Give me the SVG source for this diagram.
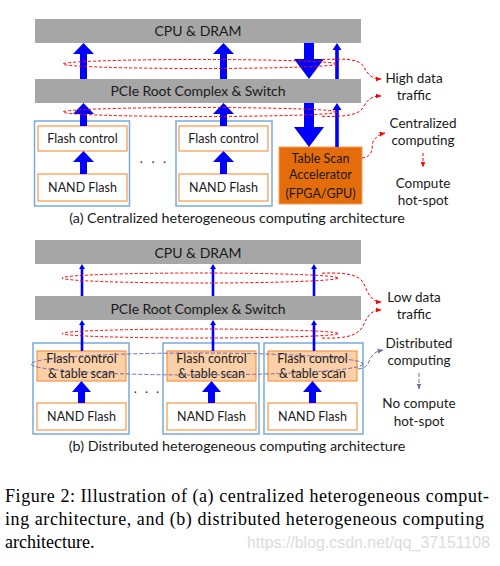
<svg xmlns="http://www.w3.org/2000/svg" width="500" height="566" viewBox="0 0 500 566">
<defs>
<style>
.bar{fill:#A6A6A6;}
.t{font-family:Lato,"Open Sans","Liberation Sans",sans-serif;font-size:12.5px;fill:#1a1a1a;text-anchor:middle;}
.tb{font-family:Lato,"Open Sans","Liberation Sans",sans-serif;font-size:14px;fill:#1a1a1a;text-anchor:middle;}
.side{font-family:Lato,"Open Sans","Liberation Sans",sans-serif;font-size:13.5px;fill:#1a1a1a;text-anchor:middle;}
.cap{font-family:Lato,"Open Sans","Liberation Sans",sans-serif;font-size:14.3px;fill:#1a1a1a;text-anchor:middle;}
.fig{font-family:"Liberation Serif","Times New Roman",serif;font-size:18px;fill:#000;}
.ssd{fill:#fff;stroke:#7AAADB;stroke-width:1.5;}
.ib{fill:#fff;stroke:#F79646;stroke-width:1.2;}
.ibf{fill:#FBCFA8;stroke:#F79646;stroke-width:1.2;}
.acc{fill:#E46C0A;stroke:#F5A05A;stroke-width:1;}
.blue{fill:#0000FF;}
.red{fill:none;stroke:#FF0000;stroke-width:1;stroke-dasharray:3,2;}
.pur{fill:none;stroke:#7A6A9E;stroke-width:1;stroke-dasharray:4,2;}
.dots{font-family:"Liberation Sans",sans-serif;font-size:14px;fill:#1a1a1a;}
</style>
<marker id="ar" viewBox="0 0 10 10" refX="9" refY="5" markerWidth="6" markerHeight="6" orient="auto"><path d="M0,1 L10,5 L0,9 z" fill="#FF0000"/></marker>
<marker id="ap" viewBox="0 0 10 10" refX="9" refY="5" markerWidth="6" markerHeight="6" orient="auto"><path d="M0,1 L10,5 L0,9 z" fill="#7A6A9E"/></marker>
</defs>

<!-- ===== (a) Centralized ===== -->
<g id="a-cpu"><rect class="bar" x="35" y="19" width="326" height="24"/><text class="tb" x="198" y="36">CPU &amp; DRAM</text></g>
<g id="a-pcie"><rect class="bar" x="35" y="79" width="326" height="24"/><text class="tb" x="198" y="96" textLength="175" lengthAdjust="spacing">PCIe Root Complex &amp; Switch</text></g>
<g id="a-ssd1"><rect class="ssd" x="34.5" y="121" width="95" height="85"/></g>
<g id="a-fc1"><rect class="ib" x="38" y="126" width="89" height="25"/><text class="t" x="82.5" y="143">Flash control</text></g>
<g id="a-nand1"><rect class="ib" x="38" y="174" width="89" height="27"/><text class="t" x="82.5" y="192">NAND Flash</text></g>
<g id="a-ssd2"><rect class="ssd" x="176" y="121" width="96" height="85"/></g>
<g id="a-fc2"><rect class="ib" x="179" y="126" width="89" height="25"/><text class="t" x="223.5" y="143">Flash control</text></g>
<g id="a-nand2"><rect class="ib" x="179" y="174" width="89" height="27"/><text class="t" x="223.5" y="192">NAND Flash</text></g>
<g id="a-dots"><text class="dots" x="139" y="166" textLength="28">·  ·  ·</text></g>
<g id="a-acc"><rect class="acc" x="279" y="147" width="83" height="57"/>
<text class="t" x="320.5" y="163">Table Scan</text><text class="t" x="320.5" y="179">Accelerator</text><text class="t" x="320.5" y="198">(FPGA/GPU)</text></g>
<g id="a-labels">
<text class="side" x="414" y="83">High data</text><text class="side" x="414" y="100">traffic</text>
<text class="side" x="423" y="128">Centralized</text><text class="side" x="423" y="145">computing</text>
<text class="side" x="423" y="188">Compute</text><text class="side" x="423" y="205">hot-spot</text>
</g>
<text class="cap" x="237" y="223">(a) Centralized heterogeneous computing architecture</text>

<!-- ===== (b) Distributed ===== -->
<g id="b-cpu"><rect class="bar" x="35" y="240" width="326" height="24"/><text class="tb" x="198" y="258">CPU &amp; DRAM</text></g>
<g id="b-pcie"><rect class="bar" x="35" y="296" width="326" height="24"/><text class="tb" x="198" y="314" textLength="175" lengthAdjust="spacing">PCIe Root Complex &amp; Switch</text></g>
<g id="b-ssd1"><rect class="ssd" x="33" y="343" width="96" height="91"/></g>
<g id="b-fc1"><rect class="ibf" x="37" y="351" width="89" height="30"/><text class="t" x="81.5" y="363">Flash control</text><text class="t" x="81.5" y="378">&amp; table scan</text></g>
<g id="b-nand1"><rect class="ib" x="37" y="403" width="89" height="27"/><text class="t" x="81.5" y="421">NAND Flash</text></g>
<g id="b-ssd2"><rect class="ssd" x="163" y="343" width="96" height="91"/></g>
<g id="b-fc2"><rect class="ibf" x="167" y="351" width="89" height="30"/><text class="t" x="211.5" y="363">Flash control</text><text class="t" x="211.5" y="378">&amp; table scan</text></g>
<g id="b-nand2"><rect class="ib" x="167" y="403" width="89" height="27"/><text class="t" x="211.5" y="421">NAND Flash</text></g>
<g id="b-ssd3"><rect class="ssd" x="264" y="343" width="99" height="91"/></g>
<g id="b-fc3"><rect class="ibf" x="268" y="351" width="89" height="30"/><text class="t" x="312.5" y="363">Flash control</text><text class="t" x="312.5" y="378">&amp; table scan</text></g>
<g id="b-nand3"><rect class="ib" x="268" y="403" width="89" height="27"/><text class="t" x="312.5" y="421">NAND Flash</text></g>
<g id="b-dots"><text class="dots" x="133" y="396" textLength="27">·  ·  ·</text></g>
<g id="b-labels">
<text class="side" x="414" y="302">Low data</text><text class="side" x="414" y="319">traffic</text>
<text class="side" x="419" y="348">Distributed</text><text class="side" x="419" y="365">computing</text>
<text class="side" x="419" y="408">No compute</text><text class="side" x="419" y="426">hot-spot</text>
</g>
<text class="cap" x="237" y="451">(b) Distributed heterogeneous computing architecture</text>

<!-- ===== connectors ===== -->
<g id="connectors">
<polygon class="blue" points="80,79 80,54 73,54 83.5,43 94,54 87,54 87,79"/>
<polygon class="blue" points="80,126 80,114 73,114 83.5,103 94,114 87,114 87,126"/>
<polygon class="blue" points="80,174 80,162 73,162 83.5,151 94,162 87,162 87,174"/>
<polygon class="blue" points="220,79 220,54 213,54 223.5,43 234,54 227,54 227,79"/>
<polygon class="blue" points="220,126 220,114 213,114 223.5,103 234,114 227,114 227,126"/>
<polygon class="blue" points="220,174 220,162 213,162 223.5,151 234,162 227,162 227,174"/>
<polygon class="blue" points="304,43 314,43 314,59 324,59 309,79 294,59 304,59"/>
<polygon class="blue" points="304,103 314,103 314,127 324,127 309,147 294,127 304,127"/>
<polygon class="blue" points="335.2,79 335.2,50 332.5,50 337,43 341.5,50 338.8,50 338.8,79"/>
<polygon class="blue" points="335.2,147 335.2,110 332.5,110 337,103 341.5,110 338.8,110 338.8,147"/>
<ellipse class="red" cx="200" cy="64" rx="137" ry="4.5"/>
<ellipse class="red" cx="200" cy="112" rx="137" ry="4.5"/>
<path class="red" d="M322,59.7 C350,58 360,60 364,67 C368,75 372,79 381,79" marker-end="url(#ar)"/>
<path class="red" d="M322,116.3 C350,117 360,114 364,106 C368,99 372,96 381,96" marker-end="url(#ar)"/>
<path class="red" d="M362,158 C376,156 370,145 374,140 C377,136 380,134 385,133" marker-end="url(#ar)"/>
<path class="red" d="M423,153 L423,167" marker-end="url(#ar)"/>
<polygon class="blue" points="80.7,296 80.7,269 79,269 82,264 85,269 83.3,269 83.3,296"/>
<polygon class="blue" points="80.7,351 80.7,325 79,325 82,320 85,325 83.3,325 83.3,351"/>
<polygon class="blue" points="211.7,296 211.7,269 210,269 213,264 216,269 214.3,269 214.3,296"/>
<polygon class="blue" points="211.7,351 211.7,325 210,325 213,320 216,325 214.3,325 214.3,351"/>
<polygon class="blue" points="312.7,296 312.7,269 311,269 314,264 317,269 315.3,269 315.3,296"/>
<polygon class="blue" points="312.7,351 312.7,325 311,325 314,320 317,325 315.3,325 315.3,351"/>
<polygon class="blue" points="78,403 78,392 72,392 81.5,381 91,392 85,392 85,403"/>
<polygon class="blue" points="208,403 208,392 202,392 211.5,381 221,392 215,392 215,403"/>
<polygon class="blue" points="309,403 309,392 303,392 312.5,381 322,392 316,392 316,403"/>
<ellipse class="red" cx="200" cy="278" rx="138" ry="5"/>
<ellipse class="red" cx="200" cy="333.5" rx="138" ry="4.5"/>
<path class="red" d="M322,273.2 C350,272 360,276 364,284 C368,294 372,302 381,302" marker-end="url(#ar)"/>
<path class="red" d="M322,338 C350,339 360,334 364,324 C368,315 372,310 381,310" marker-end="url(#ar)"/>
<ellipse class="pur" cx="197" cy="364" rx="166" ry="11"/>
<path class="pur" d="M358,369 C370,368 368,360 372,356 C375,352 378,351 383,350" marker-end="url(#ap)"/>
<path class="pur" d="M419,373 L419,389" marker-end="url(#ap)"/>
</g>

<text class="fig" x="5" y="502" textLength="484" lengthAdjust="spacing">Figure 2: Illustration of (a) centralized heterogeneous comput-</text>
<text class="fig" x="5" y="525" textLength="479" lengthAdjust="spacing">ing architecture, and (b) distributed heterogeneous computing</text>
<text class="fig" x="5" y="548">architecture.</text>
<text x="247" y="548" textLength="243" lengthAdjust="spacingAndGlyphs" style="font-family:'Liberation Sans',Arial,sans-serif;font-size:16px;fill:#dcdcdc;">https://blog.csdn.net/qq_37151108</text>
</svg>
